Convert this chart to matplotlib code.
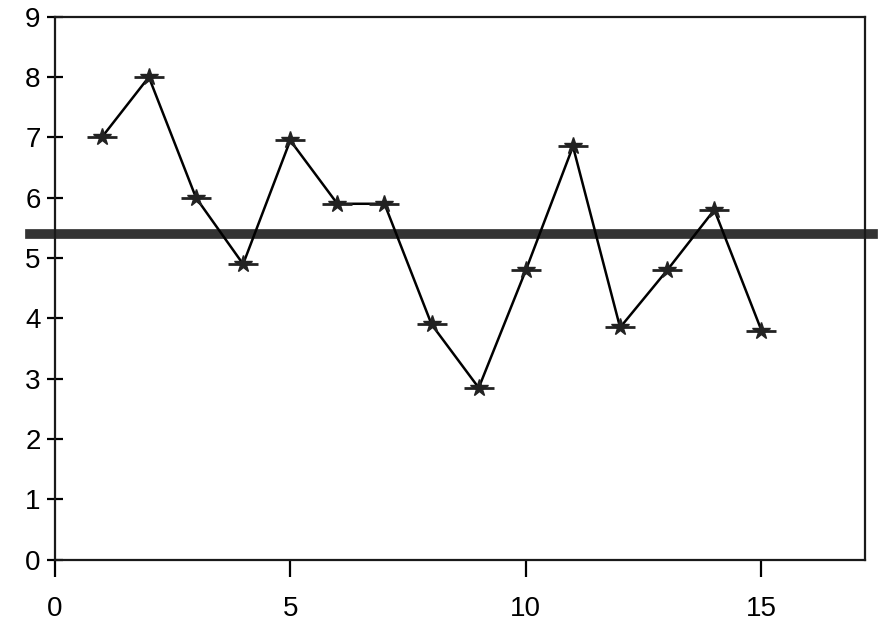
import matplotlib
matplotlib.use("Agg")
import matplotlib.pyplot as plt

# data
x_vals = [1, 2, 3, 4, 5, 6, 7, 8, 9, 10, 11, 12, 13, 14, 15]
y_vals = [7.0, 8.0, 6.0, 4.9, 6.95, 5.9, 5.9, 3.9, 2.85, 4.8, 6.85, 3.85, 4.8, 5.8, 3.8]
mean_level = 5.4
x_ticks = [0, 5, 10, 15]
y_ticks = [0, 1, 2, 3, 4, 5, 6, 7, 8, 9]

plt.rcParams['font.family'] = ['Liberation Sans', 'DejaVu Sans']

fig = plt.figure(figsize=(8.81, 6.42), dpi=100)
ax = fig.add_axes([0.062, 0.128, 0.92, 0.846])

# mean line, runs a bit past the frame
ax.axhline(mean_level, xmin=-0.03, xmax=1.01, color='#333333', lw=7, clip_on=False, zorder=1)

# series: thin line with star + dash markers
ax.plot(x_vals, y_vals, color='black', lw=1.8, zorder=2)
ax.plot(x_vals, y_vals, linestyle='none', marker='*', ms=13, color='#222222', zorder=3)
ax.plot(x_vals, y_vals, linestyle='none', marker='_', ms=22, mew=2, color='#222222', zorder=3)

ax.set_xlim(0, 17.2)
ax.set_ylim(0, 9)
ax.set_xticks(x_ticks)
ax.set_yticks(y_ticks)

for s in ax.spines.values():
    s.set_linewidth(1.6)
    s.set_color('#1a1a1a')

ax.tick_params(axis='y', direction='inout', length=12, width=1.6, labelsize=20, pad=4)
ax.tick_params(axis='x', direction='out', length=12, width=1.6, labelsize=20, pad=14)

fig.savefig('out.png', dpi=100)
